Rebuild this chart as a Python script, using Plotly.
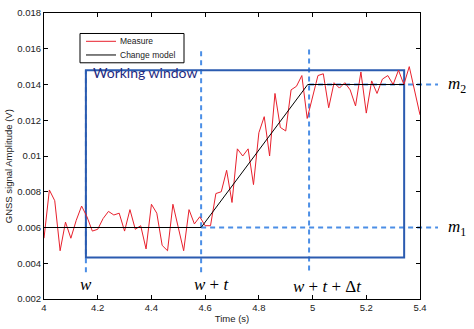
import plotly.graph_objects as go

# ---- data ----
time_s = [4.00, 4.02, 4.04, 4.06, 4.08, 4.10, 4.12, 4.14, 4.16, 4.18,
          4.20, 4.22, 4.24, 4.26, 4.28, 4.30, 4.32, 4.34, 4.36, 4.38,
          4.40, 4.42, 4.44, 4.46, 4.48, 4.50, 4.52, 4.54, 4.56, 4.58,
          4.60, 4.62, 4.64, 4.66, 4.68, 4.70, 4.72, 4.74, 4.76, 4.78,
          4.80, 4.82, 4.84, 4.86, 4.88, 4.90, 4.92, 4.94, 4.96, 4.98,
          5.00, 5.02, 5.04, 5.06, 5.08, 5.10, 5.12, 5.14, 5.16, 5.18,
          5.20, 5.22, 5.24, 5.26, 5.28, 5.30, 5.32, 5.34, 5.36, 5.38,
          5.40]
measure = [0.0054, 0.0081, 0.0075, 0.0047, 0.0063, 0.0054, 0.0064, 0.0072, 0.0066, 0.0058,
           0.0059, 0.0065, 0.0069, 0.0067, 0.0068, 0.0058, 0.0070, 0.0059, 0.0061, 0.0048,
           0.0073, 0.0068, 0.0050, 0.0047, 0.0073, 0.0060, 0.0047, 0.0070, 0.0062, 0.0066,
           0.0061, 0.0061, 0.0079, 0.0080, 0.0092, 0.0074, 0.0104, 0.0100, 0.0104, 0.0084,
           0.0113, 0.0122, 0.0100, 0.0135, 0.0116, 0.0114, 0.0137, 0.0139, 0.0145, 0.0121,
           0.0133, 0.0145, 0.0146, 0.0127, 0.0141, 0.0138, 0.0141, 0.0137, 0.0128, 0.0147,
           0.0124, 0.0142, 0.0135, 0.0143, 0.0145, 0.0140, 0.0148, 0.0140, 0.0150, 0.0137,
           0.0123]

model_t = [4.0, 4.585, 4.982, 5.341]
model_v = [0.006, 0.006, 0.014, 0.014]

w_t = 4.156
wt_t = 4.585
wtdt_t = 4.987
m1 = 0.006
m2 = 0.014
window_x = [4.156, 5.341]
window_y = [0.00432, 0.0148]

series_names = ["Measure", "Change model"]
series_colors = ["#E8202C", "black"]

x_range = [4, 5.4]
y_range = [0.002, 0.018]
x_ticks = [4, 4.2, 4.4, 4.6, 4.8, 5, 5.2, 5.4]
x_ticklabels = ["4", "4.2", "4.4", "4.6", "4.8", "5", "5.2", "5.4"]
y_ticks = [0.002, 0.004, 0.006, 0.008, 0.01, 0.012, 0.014, 0.016, 0.018]
y_ticklabels = ["0.002", "0.004", "0.006", "0.008", "0.01", "0.012", "0.014", "0.016", "0.018"]

# ---- layout geometry ----
W, H = 474, 329
ML, MR, MT, MB = 44, 54, 7, 29
PW, PH = W - ML - MR, H - MT - MB


def px(x):
    return (x - x_range[0]) / (x_range[1] - x_range[0])


def py(y):
    return (y - y_range[0]) / (y_range[1] - y_range[0])


def pix_x(p):
    return (p - ML) / PW


def pix_y(p):
    return (H - MB - p) / PH


WIN = "#2B5BB0"
DASH = "#4B8EE6"
dash = "5px,4px"

fig = go.Figure()
fig.add_trace(go.Scatter(x=time_s, y=measure, mode="lines", name=series_names[0],
                         line=dict(color=series_colors[0], width=1), showlegend=False))
fig.add_trace(go.Scatter(x=model_t, y=model_v, mode="lines", name=series_names[1],
                         line=dict(color=series_colors[1], width=1), showlegend=False))

shapes = []
# working window
shapes.append(dict(type="rect", xref="x", yref="y", x0=window_x[0], x1=window_x[1],
                   y0=window_y[0], y1=window_y[1], line=dict(color=WIN, width=2),
                   layer="below"))
# vertical dashed markers
for xv, y0, y1 in [(w_t, 0.0035, window_y[1]), (wt_t, 0.0035, 0.016), (wtdt_t, 0.0036, 0.016)]:
    shapes.append(dict(type="line", xref="paper", yref="paper", x0=px(xv), x1=px(xv),
                       y0=py(y0), y1=py(y1), line=dict(color=DASH, width=2, dash=dash),
                       layer="below"))
# horizontal dashed levels extending past the frame
for xs, yv in [(wt_t, m1), (wtdt_t, m2)]:
    shapes.append(dict(type="line", xref="paper", yref="paper", x0=px(xs), x1=pix_x(438),
                       y0=py(yv), y1=py(yv), line=dict(color=DASH, width=2, dash=dash),
                       layer="below"))

# compact legend box (drawn manually)
leg_l, leg_r, leg_t, leg_b = 80, 184, 28, 58
shapes.append(dict(type="rect", xref="paper", yref="paper", x0=pix_x(leg_l), x1=pix_x(leg_r),
                   y0=pix_y(leg_b), y1=pix_y(leg_t), line=dict(color="black", width=1),
                   fillcolor="white", layer="above"))
annotations = []
for i, (nm, col) in enumerate(zip(series_names, series_colors)):
    yy = 36 + 14 * i
    shapes.append(dict(type="line", xref="paper", yref="paper", x0=pix_x(86), x1=pix_x(116),
                       y0=pix_y(yy), y1=pix_y(yy), line=dict(color=col, width=1),
                       layer="above"))
    annotations.append(dict(text=nm, xref="paper", yref="paper", x=pix_x(118), y=pix_y(yy),
                            xanchor="left", yanchor="middle", showarrow=False,
                            font=dict(family="Liberation Sans", size=8.5, color="#222")))
fig.update_layout(shapes=shapes)

math_font = dict(family="Liberation Serif", size=17, color="black")
annotations += [
    dict(text="Working window", xref="x", yref="y", x=4.175, y=0.01465, xanchor="left",
         yanchor="middle", showarrow=False,
         font=dict(family="Lato", size=14, color="#1F2A80")),
    dict(text="<i>w</i>", xref="x", yref="y", x=w_t, y=0.0028, showarrow=False,
         xanchor="center", yanchor="middle", font=math_font),
    dict(text="<i>w</i> + <i>t</i>", xref="x", yref="y", x=wt_t + 0.04, y=0.0028,
         showarrow=False, xanchor="center", yanchor="middle", font=math_font),
    dict(text="<i>w</i> + <i>t</i> + Δ<i>t</i>", xref="x", yref="y", x=wtdt_t + 0.068,
         y=0.0027, showarrow=False, xanchor="center", yanchor="middle", font=math_font),
    dict(text="<i>m</i><sub>1</sub>", xref="paper", yref="paper", x=pix_x(446), y=py(m1),
         showarrow=False, xanchor="left", yanchor="middle", font=math_font),
    dict(text="<i>m</i><sub>2</sub>", xref="paper", yref="paper", x=pix_x(446), y=py(m2),
         showarrow=False, xanchor="left", yanchor="middle", font=math_font),
    dict(text="GNSS signal Amplitude (V)", xref="paper", yref="paper", x=pix_x(8),
         y=pix_y(164), textangle=-90, showarrow=False, xanchor="center", yanchor="middle",
         font=dict(family="Liberation Sans", size=9.5, color="#222")),
]
fig.update_layout(annotations=annotations)

axis_common = dict(showline=True, linecolor="black", linewidth=1, mirror="ticks",
                   ticks="inside", ticklen=4, tickcolor="black", showgrid=False,
                   zeroline=False, tickfont=dict(family="Liberation Sans", size=9.5,
                                                 color="#222"))
fig.update_xaxes(range=x_range, tickvals=x_ticks, ticktext=x_ticklabels,
                 title=dict(text="Time (s)", standoff=2,
                            font=dict(family="Liberation Sans", size=9.5, color="#222")),
                 **axis_common)
fig.update_yaxes(range=y_range, tickvals=y_ticks, ticktext=y_ticklabels, **axis_common)

fig.update_layout(
    width=W, height=H,
    margin=dict(l=ML, r=MR, t=MT, b=MB),
    paper_bgcolor="white", plot_bgcolor="rgba(0,0,0,0)",
    showlegend=False,
)

fig.write_html("out.html")
